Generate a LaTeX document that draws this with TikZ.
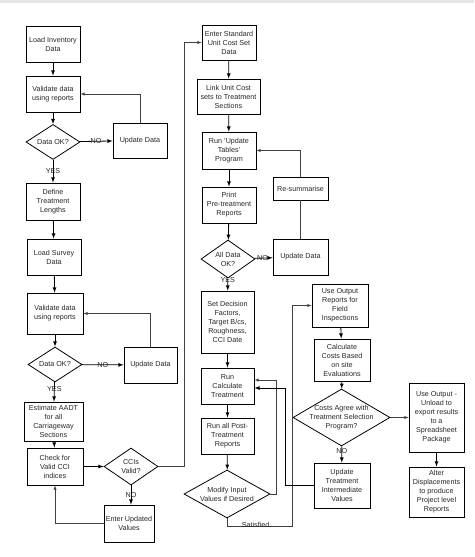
\documentclass[tikz,border=0pt]{standalone}
\usepackage{fontspec}
\setmainfont{Liberation Sans}
\usepackage{tikz}
\usetikzlibrary{arrows,shapes.geometric}
\newcommand{\boxfont}{\fontsize{7.2}{9}\selectfont}

\begin{document}
\begin{tikzpicture}[x=1pt,y=1pt,yscale=-1,xscale=1,>=latex,
  box/.style={draw,line width=0.8pt,inner sep=0pt,align=center,font=\boxfont,text=black!85},
  dmd/.style={draw,diamond,line width=0.8pt,inner sep=0pt},
  dtext/.style={inner sep=0pt,align=center,font=\boxfont,text=black!85},
  lbl/.style={inner sep=0pt,font=\boxfont,text=black!85},
  flow/.style={->,line width=0.8pt},
  back/.style={->,line width=0.5pt,draw=black!75}]
%set diagram size 474 x 557
\useasboundingbox (0,0) rectangle (474,557);
\fill[black!10] (0,0) rectangle (474,2.5);

%Shape: Rectangle [left column]
\node[box,minimum width=54,minimum height=36] (inv) at (53,44) {Load Inventory\\Data};
\node[box,minimum width=54,minimum height=36] (val1) at (53,94) {Validate data\\using reports};
%Shape: Diamond
\node[dmd,minimum width=54,minimum height=35,label={[dtext,name=ok1t]center:Data OK?}] (ok1) at (53,142) {};
\node[box,minimum width=54,minimum height=35] (upd1) at (140,140.5) {Update Data};
\node[box,minimum width=54,minimum height=37] (def) at (53,201.5) {Define\\Treatment\\Lengths};
\node[box,minimum width=54,minimum height=36] (srv) at (54,257) {Load Survey\\Data};
\node[box,minimum width=56,minimum height=41] (val2) at (55,313.5) {Validate data\\using reports};
%Shape: Diamond
\node[dmd,minimum width=54,minimum height=35,label={[dtext,name=ok2t]center:Data OK?}] (ok2) at (55,364.5) {};
\node[box,minimum width=53,minimum height=36] (upd2) at (150.5,365) {Update Data};
\node[box,minimum width=59,minimum height=39] (aadt) at (53.5,421.5) {Estimate AADT\\for all\\Carriageway\\Sections};
\node[box,minimum width=56,minimum height=37] (chk) at (55,466.5) {Check for\\Valid CCI\\indices};
%Shape: Diamond
\node[dmd,minimum width=54,minimum height=37,label={[dtext,name=ccit]center:CCIs\\Valid?}] (cci) at (131,466.5) {};
\node[box,minimum width=50,minimum height=37] (ent) at (129,523.5) {Enter Updated\\Values};

%Shape: Rectangle [middle column]
\node[box,minimum width=54,minimum height=35] (std) at (229,42.5) {Enter Standard\\Unit Cost Set\\Data};
\node[box,minimum width=63,minimum height=35] (link) at (228.5,96.5) {Link Unit Cost\\sets to Treatment\\Sections};
\node[box,minimum width=54,minimum height=37] (tab) at (229,150.5) {Run 'Update\\Tables'\\Program};
\node[box,minimum width=54,minimum height=36] (prt) at (229,205) {Print\\Pre-treatment\\Reports};
\node[box,minimum width=55,minimum height=23] (resum) at (300.5,188.5) {Re-summarise};
%Shape: Diamond
\node[dmd,minimum width=54,minimum height=38,label={[dtext,name=allt]center:All Data\\OK?}] (all) at (228,259) {};
\node[box,minimum width=55,minimum height=36] (upd3) at (300.5,257) {Update Data};
\node[box,minimum width=53,minimum height=62] (dec) at (227.5,322) {Set Decision\\Factors,\\Target B/cs,\\Roughness,\\CCI Date};
\node[box,minimum width=53,minimum height=36] (calc) at (227.5,386) {Run\\Calculate\\Treatment};
\node[box,minimum width=53,minimum height=36] (post) at (227.5,436) {Run all Post-\\Treatment\\Reports};
%Shape: Diamond
\node[dmd,minimum width=86,minimum height=48,label={[dtext,name=modt]center:Modify Input\\Values if Desired}] (mod) at (227,494) {};

%Shape: Rectangle [right columns]
\node[box,minimum width=56,minimum height=43] (fld) at (340,305.5) {Use Output\\Reports for\\Field\\Inspections};
\node[box,minimum width=56,minimum height=42] (cost) at (342,360) {Calculate\\Costs Based\\on site\\Evaluations};
%Shape: Diamond
\node[dmd,minimum width=97,minimum height=57,label={[dtext,name=agreet]center:Costs Agree with\\Treatment Selection\\Program?}] (agree) at (341.5,417.5) {};
\node[box,minimum width=56,minimum height=45] (uti) at (342,485.5) {Update\\Treatment\\Intermediate\\Values};
\node[box,minimum width=55,minimum height=69] (exp) at (436.5,417.5) {Use Output -\\Unload to\\export results\\to a\\Spreadsheet\\Package};
\node[box,minimum width=55,minimum height=50] (alt) at (436.5,492) {Alter\\Displacements\\to produce\\Project level\\Reports};

%Corners of the long connectors
\coordinate (c1) at (184,466.5);
\coordinate (c2) at (276,380);
\coordinate (c3) at (285,388);
\coordinate (c4) at (292,526);

%Straight Lines [left column]
\draw[flow] (inv) -- (val1);
\draw[flow] (val1) -- (ok1);
\draw[flow] (ok1) -- node[lbl] {NO} (upd1);
\draw[back] (upd1.north) |- (val1.east);
\draw[flow] (ok1) -- node[lbl] {YES} (def);
\draw[flow] (def) -- (srv);
\draw[flow] (srv) -- (val2);
\draw[flow] (val2) -- (ok2);
\draw[flow] (ok2) -- node[lbl] {NO} (upd2);
\draw[back] (upd2.north) |- (val2.east);
\draw[flow] (ok2) -- node[lbl,pos=0.35] {YES} (aadt);
\draw[flow] (aadt) -- (chk);
\draw[flow] (chk) -- (cci);
\draw[flow] (cci) -- node[lbl] {NO} (cci |- ent.north);
\draw[back] (ent.west) -| (chk.south);
\draw[back] (cci.east) -- (c1) |- (std.west);

%Straight Lines [middle column]
\draw[flow] (std) -- (link);
\draw[flow] (link) -- (tab);
\draw[flow] (tab) -- (prt);
\draw[flow] (prt) -- (all);
\draw[flow] (all) -- node[lbl,pos=0.45] {NO} (upd3);
\draw[back,-] (upd3.north) -- (resum.south);
\draw[back] (resum.north) |- (tab.east);
\draw[flow] (all) -- node[lbl,pos=0.1] {YES} (dec);
\draw[flow] (dec) -- (calc);
\draw[flow] (calc) -- (post);
\draw[flow] (post) -- (mod);
\draw[back] (mod.east) -| (c2) -- (c2 -| calc.east);
\draw[back] (mod.south) |- node[lbl,pos=0.72,yshift=1pt] {Satisfied} (c4) |- (fld.west);

%Straight Lines [right columns]
\draw[flow] (fld) -- (cost);
\draw[flow] (cost) -- (agree);
\draw[flow] (agree) -- node[lbl,pos=0.3] {NO} (uti);
\draw[flow] (uti.west) -| (c3) -- (c3 -| calc.east);
\draw[back] (agree) -- (exp);
\draw[flow] (exp) -- (alt);

\end{tikzpicture}
\end{document}
